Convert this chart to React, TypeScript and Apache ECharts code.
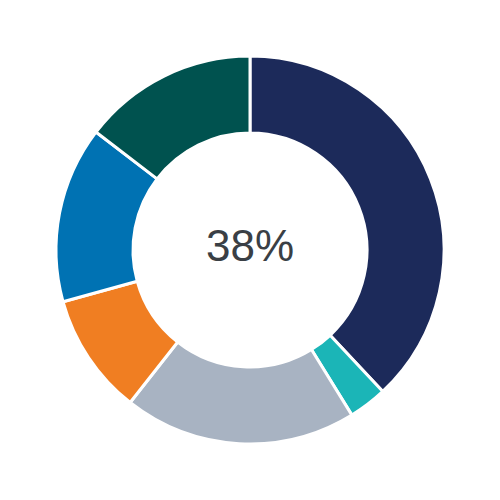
import React, { useEffect, useRef } from 'react';
import * as echarts from 'echarts';

const categories = ['Navy', 'Teal', 'Gray', 'Orange', 'Blue', 'Green'];
const values = [38, 3.2, 19.4, 10.1, 14.7, 14.6];
const colors = ['#1c2a5a', '#1bb5b7', '#a8b3c2', '#f07e22', '#0072b3', '#00524f'];
const centerLabel = '38%';

const App: React.FC = () => {
  const chartRef = useRef<HTMLDivElement>(null);

  useEffect(() => {
    document.body.style.margin = '0';
    let chart: echarts.ECharts | null = null;
    if (chartRef.current) {
      chart = echarts.init(chartRef.current, null, { renderer: 'svg' });

      const option: echarts.EChartsOption = {
        animation: false,
        color: colors,
        title: {
          text: centerLabel,
          left: 'center',
          top: 218,
          textStyle: {
            fontFamily: 'Liberation Sans, Arial, sans-serif',
            fontSize: 44,
            fontWeight: 'normal',
            color: '#3a3f45',
          },
        },
        series: [
          {
            type: 'pie',
            center: [250, 250],
            radius: [117, 194],
            startAngle: 90,
            clockwise: true,
            label: { show: false },
            labelLine: { show: false },
            itemStyle: { borderColor: '#ffffff', borderWidth: 3 },
            data: categories.map((name, i) => ({ name, value: values[i] })),
          },
        ],
      };

      chart.setOption(option);
    }
    return () => {
      chart && chart.dispose();
    };
  }, []);

  return <div ref={chartRef} style={{ width: '500px', height: '500px' }} />;
};

export default App;
